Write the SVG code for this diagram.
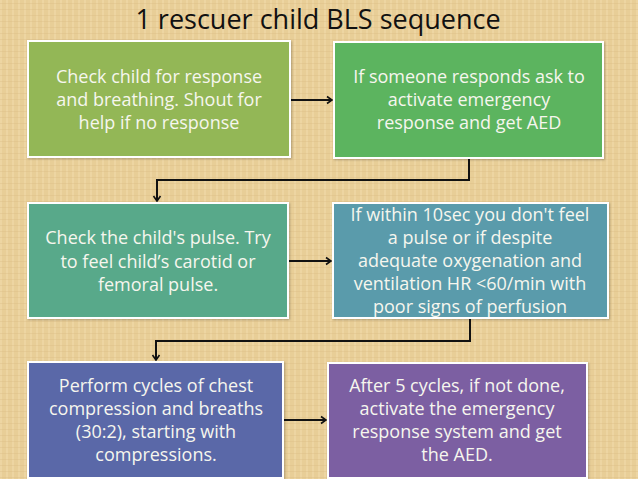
<svg xmlns="http://www.w3.org/2000/svg" width="638" height="479" viewBox="0 0 638 479">
<defs>
<pattern id="tex" width="6" height="6" patternUnits="userSpaceOnUse">
<rect width="6" height="6" fill="#E8CE97"/>
<rect x="0" y="0" width="2" height="6" fill="#F0DBAA" opacity="0.6"/>
<rect x="0" y="3" width="6" height="1" fill="#D8BA82" opacity="0.35"/>
</pattern>
<marker id="arr" markerWidth="10" markerHeight="10" refX="7" refY="5" orient="auto" markerUnits="userSpaceOnUse">
<path d="M2,1.5 L7,5 L2,8.5" fill="none" stroke="#111" stroke-width="1.6"/>
</marker>
<filter id="sh" x="-5%" y="-5%" width="110%" height="110%">
<feDropShadow dx="1" dy="1" stdDeviation="1" flood-color="#000" flood-opacity="0.25"/>
</filter>
</defs>
<style>
.box{stroke:#FFFFFF;stroke-width:2;filter:url(#sh)}
.t{font-family:"Open Sans","Liberation Sans",sans-serif;font-size:18px;fill:#F6F6EE;text-anchor:middle}
.title{font-family:"Open Sans","Liberation Sans",sans-serif;font-size:27px;fill:#111;text-anchor:middle}
.c{fill:none;stroke:#111;stroke-width:2}
</style>
<rect width="638" height="479" fill="url(#tex)"/>
<text class="title" x="318" y="29">1 rescuer child BLS sequence</text>

<g id="connectors">
<path class="c" d="M291,100 L332,100" marker-end="url(#arr)"/>
<path class="c" d="M469,158 L469,180 L157,180 L157,201" marker-end="url(#arr)"/>
<path class="c" d="M289,261 L331,261" marker-end="url(#arr)"/>
<path class="c" d="M470,318 L470,341 L156,341 L156,360" marker-end="url(#arr)"/>
<path class="c" d="M284,420 L326,420" marker-end="url(#arr)"/>
</g>

<g id="n1">
<rect class="box" x="28" y="41" width="262" height="116" fill="#93B757"/>
<text class="t" x="159" y="83">Check child for response</text>
<text class="t" x="159" y="106">and breathing. Shout for</text>
<text class="t" x="159" y="129">help if no response</text>
</g>
<g id="n2">
<rect class="box" x="334" y="42" width="269" height="116" fill="#5BB45F"/>
<text class="t" x="469" y="83">If someone responds ask to</text>
<text class="t" x="469" y="106">activate emergency</text>
<text class="t" x="469" y="129">response and get AED</text>
</g>
<g id="n3">
<rect class="box" x="28" y="203" width="260" height="115" fill="#58A98A"/>
<text class="t" x="158" y="244">Check the child's pulse. Try</text>
<text class="t" x="158" y="268">to feel child’s carotid or</text>
<text class="t" x="158" y="291">femoral pulse.</text>
</g>
<g id="n4">
<rect class="box" x="333" y="203" width="275" height="115" fill="#5A9BAB"/>
<text class="t" x="470" y="221">If within 10sec you don't feel</text>
<text class="t" x="470" y="244">a pulse or if despite</text>
<text class="t" x="470" y="267">adequate oxygenation and</text>
<text class="t" x="470" y="290">ventilation  HR &lt;60/min with</text>
<text class="t" x="470" y="313">poor signs of perfusion</text>
</g>
<g id="n5">
<rect class="box" x="28" y="362" width="255" height="116" fill="#5A68A8"/>
<text class="t" x="156" y="392">Perform cycles of chest</text>
<text class="t" x="156" y="415">compression and breaths</text>
<text class="t" x="156" y="438">(30:2), starting with</text>
<text class="t" x="156" y="461">compressions.</text>
</g>
<g id="n6">
<rect class="box" x="328" y="363" width="259" height="115" fill="#7B5FA2"/>
<text class="t" x="457" y="392">After 5 cycles, if not done,</text>
<text class="t" x="457" y="415">activate the emergency</text>
<text class="t" x="457" y="438">response system and get</text>
<text class="t" x="457" y="461">the AED.</text>
</g>
</svg>
